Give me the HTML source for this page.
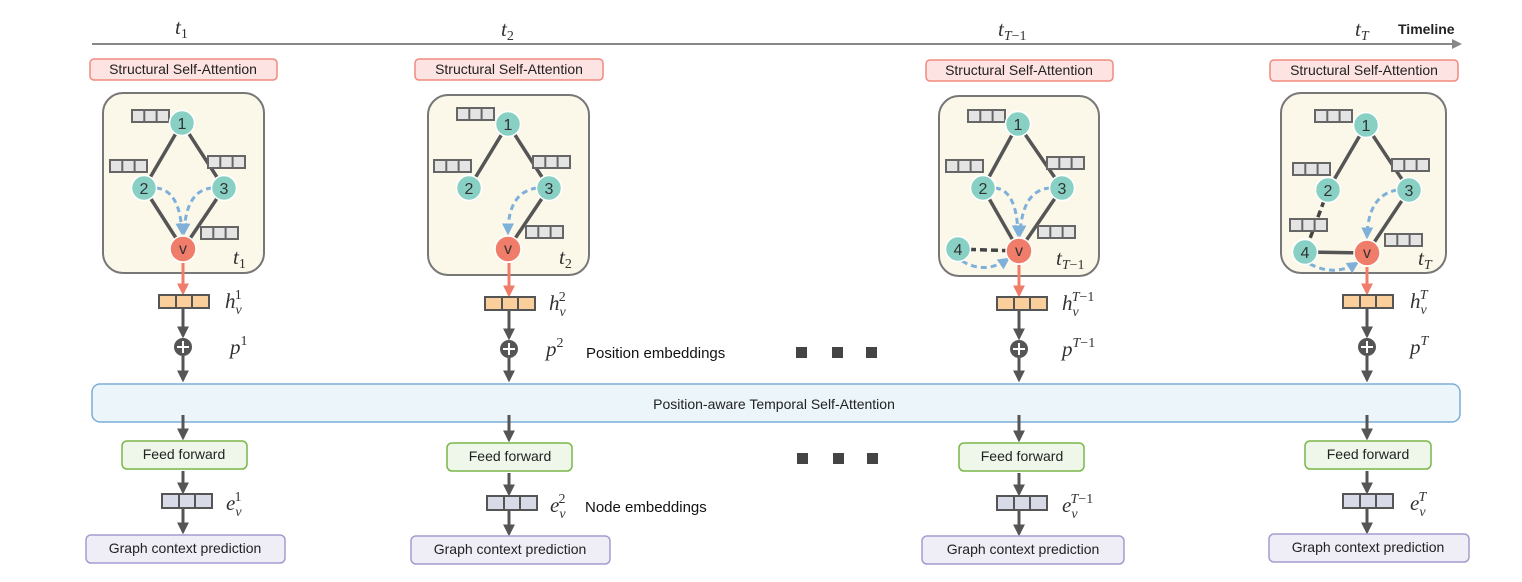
<!DOCTYPE html>
<html><head><meta charset="utf-8"><style>
body{margin:0;background:#fff}
text{font-family:"Liberation Sans",sans-serif}
.m{font-family:"Liberation Serif",serif;font-style:italic;font-size:21px;fill:#333}
.n{font-size:14px;fill:#222;text-anchor:middle}
.k{font-size:16px;fill:#333;text-anchor:middle}
</style></head><body>
<svg width="1522" height="577" xmlns="http://www.w3.org/2000/svg">
<defs>
<marker id="ag" viewBox="0 0 10 10" refX="8" refY="5" markerWidth="4" markerHeight="4" orient="auto"><path d="M0,0L10,5L0,10z" fill="#555"/></marker>
<marker id="ar" viewBox="0 0 10 10" refX="8" refY="5" markerWidth="4" markerHeight="4" orient="auto"><path d="M0,0L10,5L0,10z" fill="#f07c6a"/></marker>
<marker id="ab" viewBox="0 0 10 10" refX="8" refY="5" markerWidth="4" markerHeight="4" orient="auto"><path d="M0,0L10,5L0,10z" fill="#7fb0da"/></marker>
<marker id="at" viewBox="0 0 10 10" refX="8" refY="5" markerWidth="5" markerHeight="5" orient="auto"><path d="M0,0L10,5L0,10z" fill="#888"/></marker>
<symbol id="vg" overflow="visible"><rect x="0" y="0" width="37" height="12" fill="#e4e4e4" stroke="#666" stroke-width="2"/><line x1="12.3" y1="0" x2="12.3" y2="12" stroke="#666" stroke-width="2"/><line x1="24.6" y1="0" x2="24.6" y2="12" stroke="#666" stroke-width="2"/></symbol>
<symbol id="vh" overflow="visible"><rect x="0" y="0" width="50" height="13" fill="#fbcf9c" stroke="#555" stroke-width="2"/><line x1="17" y1="0" x2="17" y2="13" stroke="#555" stroke-width="2"/><line x1="33" y1="0" x2="33" y2="13" stroke="#555" stroke-width="2"/></symbol>
<symbol id="ve" overflow="visible"><rect x="0" y="0" width="50" height="14" fill="#d8dae8" stroke="#555" stroke-width="2"/><line x1="17" y1="0" x2="17" y2="14" stroke="#555" stroke-width="2"/><line x1="33" y1="0" x2="33" y2="14" stroke="#555" stroke-width="2"/></symbol>
</defs>

<line x1="92" y1="44" x2="1460" y2="44" stroke="#888" stroke-width="2" marker-end="url(#at)"/>
<text x="175" y="34" class="m">t<tspan font-size="14" dy="4" font-style="normal">1</tspan></text>
<text x="501" y="36" class="m">t<tspan font-size="14" dy="4" font-style="normal">2</tspan></text>
<text x="998" y="36" class="m">t<tspan font-size="14" dy="4">T</tspan><tspan font-size="14" font-style="normal">−1</tspan></text>
<text x="1355" y="36" class="m">t<tspan font-size="14" dy="4">T</tspan></text>
<text x="1398" y="34" font-size="14" font-weight="bold" fill="#222">Timeline</text>

<rect x="92" y="384" width="1368" height="38" rx="8" fill="#ecf5f9" stroke="#7aaed8" stroke-width="1.5"/>
<text x="774" y="409" class="n" font-size="15">Position-aware Temporal Self-Attention</text>

<text x="586" y="358" font-size="15" fill="#111">Position embeddings</text>
<text x="585" y="512" font-size="15" fill="#111">Node embeddings</text>
<g fill="#444"><rect x="796" y="347" width="11" height="11"/><rect x="832" y="347" width="11" height="11"/><rect x="866" y="347" width="11" height="11"/>
<rect x="797" y="453" width="11" height="11"/><rect x="833" y="453" width="11" height="11"/><rect x="867" y="453" width="11" height="11"/></g>

<!-- Column 1 -->
<rect x="90" y="59" width="187" height="21" rx="4" fill="#fde3e1" stroke="#f08a7e" stroke-width="1.5"/>
<text x="183" y="74" class="n" font-size="12">Structural Self-Attention</text>
<rect x="103" y="93" width="161" height="180" rx="20" fill="#fcf8e9" stroke="#777" stroke-width="2"/>
<g stroke="#555" stroke-width="3.5"><line x1="182" y1="123" x2="144" y2="188"/><line x1="182" y1="123" x2="224" y2="188"/><line x1="144" y1="188" x2="183" y2="249"/><line x1="224" y1="188" x2="183" y2="249"/></g>
<g fill="none" stroke="#7fb0da" stroke-width="3" stroke-dasharray="6,4"><path d="M156,188 Q180,190 182,233" marker-end="url(#ab)"/><path d="M212,188 Q186,190 184,233" marker-end="url(#ab)"/></g>
<use href="#vg" x="132" y="110"/><use href="#vg" x="110" y="160"/><use href="#vg" x="208" y="156"/><use href="#vg" x="201" y="227"/>
<g fill="#88d0c4" stroke="#fff" stroke-width="1.5"><circle cx="182" cy="123" r="12.5"/><circle cx="144" cy="188" r="12.5"/><circle cx="224" cy="188" r="12.5"/></g>
<circle cx="183" cy="249" r="13" fill="#f07c6a" stroke="#fff" stroke-width="1.5"/>
<text x="182" y="129" class="k">1</text><text x="144" y="194" class="k">2</text><text x="224" y="194" class="k">3</text><text x="183" y="254" class="k">v</text>
<text x="233" y="264" class="m">t<tspan font-size="14" dy="4" font-style="normal">1</tspan></text>
<line x1="183" y1="263" x2="183" y2="293" stroke="#f07c6a" stroke-width="3" marker-end="url(#ar)"/>
<use href="#vh" x="159" y="295"/>
<text x="225" y="308" class="m">h<tspan font-size="14" dy="6">v</tspan><tspan font-size="14" dy="-15" dx="-7" font-style="normal">1</tspan></text>
<line x1="183" y1="309" x2="183" y2="336" stroke="#555" stroke-width="3" marker-end="url(#ag)"/>
<circle cx="183" cy="347" r="9" fill="#555"/><path d="M177,347h12M183,341v12" stroke="#fff" stroke-width="2"/>
<text x="230" y="354" class="m">p<tspan font-size="14" dy="-9" font-style="normal">1</tspan></text>
<line x1="183" y1="356" x2="183" y2="380" stroke="#555" stroke-width="3" marker-end="url(#ag)"/>
<line x1="183" y1="415" x2="183" y2="438" stroke="#555" stroke-width="3" marker-end="url(#ag)"/>
<rect x="122" y="441" width="125" height="28" rx="5" fill="#eef7ea" stroke="#7ab648" stroke-width="1.5"/>
<text x="184" y="459" class="n">Feed forward</text>
<line x1="183" y1="471" x2="183" y2="492" stroke="#555" stroke-width="3" marker-end="url(#ag)"/>
<use href="#ve" x="162" y="494"/>
<text x="226" y="510" class="m">e<tspan font-size="14" dy="6">v</tspan><tspan font-size="14" dy="-15" dx="-7" font-style="normal">1</tspan></text>
<line x1="183" y1="509" x2="183" y2="532" stroke="#555" stroke-width="3" marker-end="url(#ag)"/>
<rect x="86" y="535" width="199" height="28" rx="5" fill="#efeef7" stroke="#a59bd0" stroke-width="1.5"/>
<text x="185" y="553" class="n">Graph context prediction</text>

<!-- Column 2 -->
<rect x="415" y="59" width="188" height="21" rx="4" fill="#fde3e1" stroke="#f08a7e" stroke-width="1.5"/>
<text x="509" y="74" class="n" font-size="12">Structural Self-Attention</text>
<rect x="428" y="95" width="161" height="180" rx="20" fill="#fcf8e9" stroke="#777" stroke-width="2"/>
<g stroke="#555" stroke-width="3.5"><line x1="508" y1="124" x2="469" y2="188"/><line x1="508" y1="124" x2="549" y2="188"/><line x1="549" y1="188" x2="508" y2="249"/></g>
<g fill="none" stroke="#7fb0da" stroke-width="3" stroke-dasharray="6,4"><path d="M537,188 Q508,192 508,233" marker-end="url(#ab)"/></g>
<use href="#vg" x="457" y="108"/><use href="#vg" x="434" y="160"/><use href="#vg" x="533" y="156"/><use href="#vg" x="526" y="226"/>
<g fill="#88d0c4" stroke="#fff" stroke-width="1.5"><circle cx="508" cy="124" r="12.5"/><circle cx="469" cy="188" r="12.5"/><circle cx="549" cy="188" r="12.5"/></g>
<circle cx="508" cy="249" r="13" fill="#f07c6a" stroke="#fff" stroke-width="1.5"/>
<text x="508" y="130" class="k">1</text><text x="469" y="194" class="k">2</text><text x="549" y="194" class="k">3</text><text x="508" y="254" class="k">v</text>
<text x="559" y="264" class="m">t<tspan font-size="14" dy="4" font-style="normal">2</tspan></text>
<line x1="509" y1="263" x2="509" y2="295" stroke="#f07c6a" stroke-width="3" marker-end="url(#ar)"/>
<use href="#vh" x="485" y="297"/>
<text x="549" y="310" class="m">h<tspan font-size="14" dy="6">v</tspan><tspan font-size="14" dy="-15" dx="-7" font-style="normal">2</tspan></text>
<line x1="509" y1="311" x2="509" y2="338" stroke="#555" stroke-width="3" marker-end="url(#ag)"/>
<circle cx="509" cy="349" r="9" fill="#555"/><path d="M503,349h12M509,343v12" stroke="#fff" stroke-width="2"/>
<text x="546" y="356" class="m">p<tspan font-size="14" dy="-9" font-style="normal">2</tspan></text>
<line x1="509" y1="358" x2="509" y2="380" stroke="#555" stroke-width="3" marker-end="url(#ag)"/>
<line x1="509" y1="415" x2="509" y2="440" stroke="#555" stroke-width="3" marker-end="url(#ag)"/>
<rect x="447" y="443" width="125" height="28" rx="5" fill="#eef7ea" stroke="#7ab648" stroke-width="1.5"/>
<text x="510" y="461" class="n">Feed forward</text>
<line x1="509" y1="473" x2="509" y2="494" stroke="#555" stroke-width="3" marker-end="url(#ag)"/>
<use href="#ve" x="487" y="496"/>
<text x="550" y="512" class="m">e<tspan font-size="14" dy="6">v</tspan><tspan font-size="14" dy="-15" dx="-7" font-style="normal">2</tspan></text>
<line x1="509" y1="511" x2="509" y2="534" stroke="#555" stroke-width="3" marker-end="url(#ag)"/>
<rect x="411" y="536" width="199" height="28" rx="5" fill="#efeef7" stroke="#a59bd0" stroke-width="1.5"/>
<text x="510" y="554" class="n">Graph context prediction</text>

<!-- Column 3 -->
<rect x="926" y="60" width="187" height="21" rx="4" fill="#fde3e1" stroke="#f08a7e" stroke-width="1.5"/>
<text x="1019" y="75" class="n" font-size="12">Structural Self-Attention</text>
<rect x="939" y="96" width="160" height="180" rx="20" fill="#fcf8e9" stroke="#777" stroke-width="2"/>
<g stroke="#555" stroke-width="3.5"><line x1="1018" y1="124" x2="983" y2="188"/><line x1="1018" y1="124" x2="1062" y2="188"/><line x1="983" y1="188" x2="1019" y2="251"/><line x1="1062" y1="188" x2="1019" y2="251"/></g>
<line x1="958" y1="249" x2="1019" y2="251" stroke="#444" stroke-width="3.5" stroke-dasharray="7,4"/>
<g fill="none" stroke="#7fb0da" stroke-width="3" stroke-dasharray="6,4"><path d="M995,188 Q1017,190 1018,235" marker-end="url(#ab)"/><path d="M1050,188 Q1022,190 1020,235" marker-end="url(#ab)"/><path d="M962,261 Q985,275 1008,259" marker-end="url(#ab)"/></g>
<use href="#vg" x="968" y="110"/><use href="#vg" x="946" y="160"/><use href="#vg" x="1047" y="157"/><use href="#vg" x="1038" y="226"/>
<g fill="#88d0c4" stroke="#fff" stroke-width="1.5"><circle cx="1018" cy="124" r="12.5"/><circle cx="983" cy="188" r="12.5"/><circle cx="1062" cy="188" r="12.5"/><circle cx="958" cy="249" r="12.5"/></g>
<circle cx="1019" cy="251" r="13" fill="#f07c6a" stroke="#fff" stroke-width="1.5"/>
<text x="1018" y="130" class="k">1</text><text x="983" y="194" class="k">2</text><text x="1062" y="194" class="k">3</text><text x="958" y="255" class="k">4</text><text x="1019" y="256" class="k">v</text>
<text x="1056" y="265" class="m">t<tspan font-size="14" dy="4">T</tspan><tspan font-size="14" font-style="normal">−1</tspan></text>
<line x1="1019" y1="265" x2="1019" y2="295" stroke="#f07c6a" stroke-width="3" marker-end="url(#ar)"/>
<use href="#vh" x="997" y="297"/>
<text x="1062" y="310" class="m">h<tspan font-size="14" dy="6">v</tspan><tspan font-size="14" dy="-15" dx="-7">T</tspan><tspan font-size="14" font-style="normal">−1</tspan></text>
<line x1="1019" y1="311" x2="1019" y2="338" stroke="#555" stroke-width="3" marker-end="url(#ag)"/>
<circle cx="1019" cy="349" r="9" fill="#555"/><path d="M1013,349h12M1019,343v12" stroke="#fff" stroke-width="2"/>
<text x="1062" y="356" class="m">p<tspan font-size="14" dy="-9">T</tspan><tspan font-size="14" font-style="normal">−1</tspan></text>
<line x1="1019" y1="358" x2="1019" y2="380" stroke="#555" stroke-width="3" marker-end="url(#ag)"/>
<line x1="1019" y1="415" x2="1019" y2="440" stroke="#555" stroke-width="3" marker-end="url(#ag)"/>
<rect x="959" y="443" width="125" height="28" rx="5" fill="#eef7ea" stroke="#7ab648" stroke-width="1.5"/>
<text x="1022" y="461" class="n">Feed forward</text>
<line x1="1019" y1="473" x2="1019" y2="494" stroke="#555" stroke-width="3" marker-end="url(#ag)"/>
<use href="#ve" x="997" y="496"/>
<text x="1062" y="512" class="m">e<tspan font-size="14" dy="6">v</tspan><tspan font-size="14" dy="-15" dx="-7">T</tspan><tspan font-size="14" font-style="normal">−1</tspan></text>
<line x1="1019" y1="511" x2="1019" y2="534" stroke="#555" stroke-width="3" marker-end="url(#ag)"/>
<rect x="922" y="536" width="202" height="28" rx="5" fill="#efeef7" stroke="#a59bd0" stroke-width="1.5"/>
<text x="1023" y="554" class="n">Graph context prediction</text>

<!-- Column 4 -->
<rect x="1270" y="60" width="188" height="21" rx="4" fill="#fde3e1" stroke="#f08a7e" stroke-width="1.5"/>
<text x="1364" y="75" class="n" font-size="12">Structural Self-Attention</text>
<rect x="1281" y="93" width="165" height="180" rx="20" fill="#fcf8e9" stroke="#777" stroke-width="2"/>
<g stroke="#555" stroke-width="3.5"><line x1="1366" y1="125" x2="1328" y2="190"/><line x1="1366" y1="125" x2="1409" y2="190"/><line x1="1409" y1="190" x2="1367" y2="253"/><line x1="1305" y1="252" x2="1367" y2="253"/></g>
<line x1="1328" y1="190" x2="1305" y2="252" stroke="#444" stroke-width="3.5" stroke-dasharray="7,4"/>
<g fill="none" stroke="#7fb0da" stroke-width="3" stroke-dasharray="6,4"><path d="M1397,190 Q1368,195 1367,237" marker-end="url(#ab)"/><path d="M1310,264 Q1335,277 1357,263" marker-end="url(#ab)"/></g>
<use href="#vg" x="1315" y="110"/><use href="#vg" x="1293" y="163"/><use href="#vg" x="1392" y="159"/><use href="#vg" x="1385" y="234"/><use href="#vg" x="1290" y="219"/>
<g fill="#88d0c4" stroke="#fff" stroke-width="1.5"><circle cx="1366" cy="125" r="12.5"/><circle cx="1328" cy="190" r="12.5"/><circle cx="1409" cy="190" r="12.5"/><circle cx="1305" cy="252" r="12.5"/></g>
<circle cx="1367" cy="253" r="13" fill="#f07c6a" stroke="#fff" stroke-width="1.5"/>
<text x="1366" y="131" class="k">1</text><text x="1328" y="196" class="k">2</text><text x="1409" y="196" class="k">3</text><text x="1305" y="258" class="k">4</text><text x="1367" y="258" class="k">v</text>
<text x="1418" y="265" class="m">t<tspan font-size="14" dy="4">T</tspan></text>
<line x1="1367" y1="267" x2="1367" y2="293" stroke="#f07c6a" stroke-width="3" marker-end="url(#ar)"/>
<use href="#vh" x="1343" y="295"/>
<text x="1410" y="308" class="m">h<tspan font-size="14" dy="6">v</tspan><tspan font-size="14" dy="-15" dx="-7">T</tspan></text>
<line x1="1367" y1="309" x2="1367" y2="336" stroke="#555" stroke-width="3" marker-end="url(#ag)"/>
<circle cx="1367" cy="347" r="9" fill="#555"/><path d="M1361,347h12M1367,341v12" stroke="#fff" stroke-width="2"/>
<text x="1410" y="354" class="m">p<tspan font-size="14" dy="-9">T</tspan></text>
<line x1="1367" y1="356" x2="1367" y2="380" stroke="#555" stroke-width="3" marker-end="url(#ag)"/>
<line x1="1367" y1="415" x2="1367" y2="438" stroke="#555" stroke-width="3" marker-end="url(#ag)"/>
<rect x="1305" y="441" width="126" height="28" rx="5" fill="#eef7ea" stroke="#7ab648" stroke-width="1.5"/>
<text x="1368" y="459" class="n">Feed forward</text>
<line x1="1367" y1="471" x2="1367" y2="492" stroke="#555" stroke-width="3" marker-end="url(#ag)"/>
<use href="#ve" x="1343" y="494"/>
<text x="1410" y="510" class="m">e<tspan font-size="14" dy="6">v</tspan><tspan font-size="14" dy="-15" dx="-7">T</tspan></text>
<line x1="1367" y1="509" x2="1367" y2="532" stroke="#555" stroke-width="3" marker-end="url(#ag)"/>
<rect x="1269" y="534" width="200" height="28" rx="5" fill="#efeef7" stroke="#a59bd0" stroke-width="1.5"/>
<text x="1368" y="552" class="n">Graph context prediction</text>
</svg>
</body></html>
